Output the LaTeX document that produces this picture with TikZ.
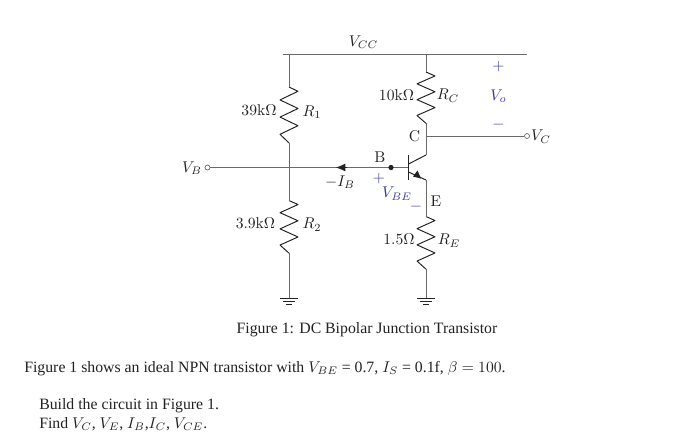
\documentclass[tikz,border=0pt]{standalone}
\usepackage[no-math]{fontspec}
\usetikzlibrary{arrows.meta}
\newfontfamily\capfont[Scale=1.012]{Liberation Serif}
\definecolor{wire}{HTML}{6A6A6A}
\definecolor{ink}{HTML}{222222}
\definecolor{volt}{HTML}{3A3A9E}
\tikzset{
  wirel/.style={draw=wire,line width=0.62pt},
  zig/.style={draw=ink,line width=0.62pt,line join=round},
  dev/.style={draw=ink,line width=0.62pt},
  lbl/.style={text=ink,inner sep=0pt},
  vlbl/.style={text=volt,inner sep=0pt},
  txt/.style={text=ink,inner sep=0pt,font=\capfont},
  term/.style={circle,draw=wire,fill=white,line width=0.45pt,minimum size=3.2pt,inner sep=0pt},
  pnt/.style={circle,fill=ink,minimum size=3.4pt,inner sep=0pt}
}
% resistor: #1 x, #2 top y, #3 step, #4 name
\newcommand{\myres}[4]{%
  \coordinate (#4t) at (#1,#2);
  \coordinate (#4b) at (#1,#2+0.5*#3+5*#3+0.5*#3+0.5*#3);
  \draw[zig] (#4t) -- (#1+9,#2+0.5*#3) -- (#1-9,#2+1.5*#3) -- (#1+9,#2+2.5*#3)
    -- (#1-9,#2+3.5*#3) -- (#1+9,#2+4.5*#3) -- (#1-9,#2+5.5*#3) -- (#4b);
}
\newcommand{\myground}[2]{%
  \draw[dev] (#1-9,#2) -- (#1+9,#2);
  \draw[dev] (#1-6,#2+3.4) -- (#1+6,#2+3.4);
  \draw[dev] (#1-3,#2+6.8) -- (#1+3,#2+6.8);
}
\begin{document}
\begin{tikzpicture}[x=0.6414pt,y=-0.6414pt]
\useasboundingbox (0,0) rectangle (700,447);
\fill[white] (0,0) rectangle (700,447);
% rails and junction points
\coordinate (railL) at (283,54.5);
\coordinate (railR) at (527,54.5);
\coordinate (topL) at (289,54.5);
\coordinate (topR) at (426,54.5);
\coordinate (bjunc) at (289,167.5);
\coordinate (gndL) at (289,298);
\coordinate (gndR) at (426,298);
\coordinate (cjunc) at (426,136);
\coordinate (cend) at (426,155);
\coordinate (eend) at (426,180);
\coordinate (cb) at (408.5,164);
\coordinate (eb) at (408.5,172);
\coordinate (bartop) at (408.5,155);
\coordinate (barbot) at (408.5,180);
\coordinate (bbase) at (408.5,167.5);
\coordinate (arrowI) at (336,167.5);
\coordinate (arrowIs) at (346,167.5);
\draw[wirel] (railL) -- (railR);
\myres{289}{87}{8.6}{ra}
\myres{289}{200.5}{8.1}{rb}
\myres{426}{72}{7.9}{rc}
\myres{426}{216.5}{8.1}{re}
\draw[wirel] (topL) -- (rat);
\draw[wirel] (rab) -- (rbt);
\draw[wirel] (rbb) -- (gndL);
\draw[wirel] (topR) -- (rct);
\draw[wirel] (rcb) -- (cend);
\draw[wirel] (eend) -- (ret);
\draw[wirel] (reb) -- (gndR);
\myground{289}{298}
\myground{426}{298}
% terminals
\node[term] (vbt) at (207.5,167.5) {};
\node[term] (vct) at (527,136) {};
\draw[wirel] (vbt) -- (bbase);
\draw[wirel] (cjunc) -- (vct);
\node[pnt] (bdot) at (391,167.5) {};
% current arrow
\draw[-{Latex[length=6pt,width=5pt]},draw=ink,line width=0pt] (arrowIs) -- (arrowI);
% transistor
\draw[dev,line width=0.75pt] (bartop) -- (barbot);
\draw[dev] (cb) -- (cend);
\draw[dev] (eb) -- (eend);
\fill[ink] (421,178.5) -- (413,176.5) -- (417.5,170.5) -- cycle;
% labels
\node[lbl] (vcc) at (363.5,42) {$V_{CC}$};
\node[lbl] (l39) at (259,110) {$39\mathrm{k}\Omega$};
\node[lbl] (lr1) at (312,112) {$R_1$};
\node[lbl] (lvb) at (192,168) {$V_B$};
\node[lbl] (lib) at (340,182) {$-I_B$};
\node[lbl] (lB) at (380,157.5) {B};
\node[vlbl] (lp1) at (379,179) {$+$};
\node[vlbl] (lvbe) at (397,193.5) {$V_{BE}$};
\node[vlbl] (lm1) at (416,207) {$-$};
\node[lbl] (lE) at (436,201) {E};
\node[lbl] (lC) at (414.5,136) {C};
\node[lbl] (l10) at (396.5,95) {$10\mathrm{k}\Omega$};
\node[lbl] (lrc) at (448,95.5) {$R_C$};
\node[vlbl] (lp2) at (498.5,67) {$+$};
\node[vlbl] (lvo) at (498.5,96) {$V_o$};
\node[vlbl] (lm2) at (498.5,125) {$-$};
\node[lbl] (lvc) at (541,136.5) {$V_C$};
\node[lbl] (l39b) at (255.5,223) {$3.9\mathrm{k}\Omega$};
\node[lbl] (lr2) at (312,224.5) {$R_2$};
\node[lbl] (l15) at (399,239.5) {$1.5\Omega$};
\node[lbl] (lre) at (449,240.5) {$R_E$};
% text
\node[txt] (cap) at (367,329.5) {Figure 1: DC Bipolar Junction Transistor};
\node[txt,anchor=base west] (t1) at (24,372) {Figure 1 shows an ideal NPN transistor with $V_{BE}$ = 0.7, $I_S$ = 0.1f, $\beta = 100$.};
\node[txt,anchor=base west] (t2) at (39,409) {Build the circuit in Figure 1.};
\node[txt,anchor=base west] (t3) at (39,428) {Find $V_C$, $V_E$, $I_B$,$I_C$, $V_{CE}$.};
\end{tikzpicture}
\end{document}
